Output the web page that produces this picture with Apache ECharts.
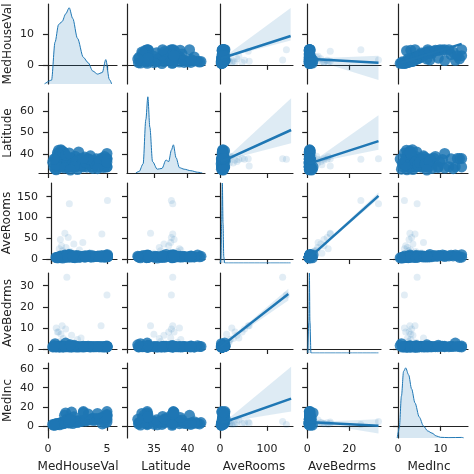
<!DOCTYPE html>
<html>
<head>
<meta charset="utf-8">
<script src="https://cdn.jsdelivr.net/npm/echarts@6/dist/echarts.min.js"></script>
<style>html,body{margin:0;padding:0;background:#fff}#main{width:474px;height:474px}</style>
</head>
<body>
<div id="main"></div>
<script>
var names = ['MedHouseVal', 'Latitude', 'AveRooms', 'AveBedrms', 'MedInc'];
var ranges = [[-0.76, 5.85], [31, 42.6], [-10.6, 155], [-2, 35.2], [-1.9, 16.5]];
var rowRanges = [[-6.3, 20], [31.2, 68.4], [-9.5, 183], [-1.9, 36], [-12.8, 66]];
var xTicks = [[0, 5], [35, 40], [0, 100], [0, 20], [0, 10]];
var yTicks = [[0, 10], [40, 50, 60], [0, 50, 100, 150], [0, 10, 20, 30], [0, 20, 40, 60]];

// [MedHouseVal, Latitude, AveRooms, AveBedrms, MedInc]
var coreRows = [
	[0.5,34.0,4.2,1.05,1.2],[0.6,37.8,3.5,1.1,1.8],[0.7,32.7,5.1,1.0,2.1],[0.8,39.5,6.0,1.2,2.5],
	[0.9,41.8,5.5,1.15,2.0],[1.0,33.9,4.8,1.05,2.6],[1.1,36.5,7.5,1.3,3.0],[1.2,38.0,5.9,1.08,3.3],
	[1.3,34.1,4.0,0.95,2.2],[1.4,40.6,6.8,1.25,2.9],[1.5,35.2,5.3,1.1,3.6],[1.6,37.7,4.4,1.02,4.0],
	[1.7,33.8,6.2,1.18,3.1],[1.8,34.2,9.0,1.6,4.3],[1.9,38.3,5.0,1.05,3.8],[2.0,36.0,4.6,1.0,4.6],
	[2.1,33.9,3.2,1.2,2.4],[2.2,37.4,6.5,1.1,5.0],[2.3,39.0,5.7,1.07,4.1],[2.4,34.0,7.9,1.3,5.3],
	[2.5,32.8,4.9,1.04,3.5],[2.7,37.9,6.1,1.12,5.6],[2.9,34.3,5.4,1.06,4.9],[3.1,38.6,6.6,1.09,6.2],
	[3.3,33.9,7.2,1.15,5.8],[3.5,37.6,5.2,1.03,6.6],[3.7,34.1,8.2,1.2,7.2],[3.9,36.9,6.3,1.08,5.5],
	[4.1,37.8,7.0,1.1,7.8],[4.3,34.0,5.8,1.05,6.9],[4.5,38.1,8.6,1.22,8.5],[4.7,33.7,6.9,1.1,9.4],
	[4.9,37.5,9.5,1.3,10.5],[5.0,34.1,7.4,1.12,12.0],[5.0,37.9,10.5,1.4,15.0],[5.0,34.0,6.0,1.0,4.0],
	[5.0,37.7,5.5,1.05,7.0],[4.8,34.2,4.5,1.0,3.0],[4.6,37.8,4.8,1.0,2.0],[1.0,35.5,2.5,0.9,1.0],
	[0.8,40.5,7.2,1.4,1.5],[1.2,41.5,9.8,1.5,2.8],[0.6,33.0,3.0,2.5,0.8],[1.5,34.0,10.0,2.8,13.5],
	[2.0,37.9,3.8,1.1,14.5],[3.0,34.0,4.4,1.0,15.0],[1.1,42.0,6.5,1.2,3.4],[1.6,36.8,11.0,1.3,7.5],
	[2.6,41.0,5.0,1.0,4.4],[3.8,33.3,5.6,1.06,8.0],
	[0.4,36.2,3.8,1.0,1.5],[0.7,35.0,4.5,1.1,1.7],[0.9,38.8,5.2,1.05,2.3],[1.0,40.0,4.9,1.1,2.1],
	[1.3,41.0,5.6,1.0,2.7],[1.5,39.5,6.1,1.15,3.2],[1.8,40.5,4.7,1.0,3.0],[2.1,35.6,5.5,1.05,3.9],
	[2.4,36.6,4.3,1.0,4.2],[2.8,35.0,6.4,1.1,4.7],[3.2,36.2,5.9,1.08,5.1],[3.6,39.2,4.8,1.0,6.0],
	[4.0,35.4,6.0,1.1,6.4],[4.4,36.6,5.1,1.02,7.4],[4.8,38.9,6.7,1.12,8.8],[5.0,36.3,8.0,1.2,9.9],
	[5.0,40.3,5.9,1.1,11.0],[4.2,33.2,7.6,1.15,13.0],[3.4,37.8,9.2,1.3,12.5],[1.4,33.5,8.5,1.35,11.0],
	[2.2,34.1,8.8,1.8,9.5],[0.5,37.7,3.0,1.6,0.5],[1.9,32.6,7.0,2.0,6.8],[3.0,38.0,7.8,1.25,14.0]
];
var sparseRows = [
	[1.6,37.8,133,34,4.5],[5.0,37.6,141,25.6,1.5],[1.2,34.5,62,11,2.8],[4.5,37.8,60,11,4.0],
	[1.5,37.6,52,9.5,3.2],[0.8,38.0,47,8,2.6],[2.0,36.5,36,6.5,3.5],[1.3,35.8,28,5,2.2],
	[0.9,37.2,32,8,1.8],[2.5,39.0,22,4.5,3.0],[1.0,36.0,20,3.6,2.5],[1.7,38.5,18,3.2,4.2],
	[3.5,37.0,15,2.2,5.5],[0.7,38.8,25,10,1.5],[1.1,35.0,14,7,3.0],[2.8,37.5,40,5.2,6.0]
];

// diagonal KDE curves: [x, density]
var kdes = [
	[[-0.3,0],[0.3,0.05],[0.6,0.55],[0.9,0.78],[1.2,0.82],[1.5,0.92],[1.8,1.0],[2.1,0.86],[2.5,0.6],[3.0,0.35],[3.4,0.28],[3.8,0.17],[4.2,0.13],[4.6,0.15],[4.9,0.32],[5.2,0.06],[5.4,0]],
	[[32.3,0],[32.8,0.02],[33.4,0.12],[33.8,0.7],[34.1,1],[34.4,0.6],[34.8,0.15],[35.5,0.05],[36.2,0.06],[36.8,0.17],[37.2,0.15],[37.6,0.3],[37.9,0.37],[38.3,0.2],[38.8,0.07],[39.5,0.05],[40.5,0.03],[41.5,0.01],[42.2,0]],
	[[0.5,0],[2,0.05],[3.5,0.5],[5,1],[6.5,0.5],[8,0.08],[10,0],[150,0]],
	[[0.3,0],[0.8,0.4],[1.05,1],[1.3,0.4],[1.8,0],[34,0]],
	[[-0.2,0],[0.3,0.15],[0.8,0.6],[1.3,0.95],[1.8,1],[2.5,0.9],[3.2,0.7],[4,0.5],[5,0.3],[6,0.17],[7,0.1],[8,0.07],[9,0.03],[10,0.01],[12,0.005],[15,0.008],[15.5,0]]
];
var kdeMax = [1.05, 1.05, 1.0, 1.0, 1.07];

// regression fits: row, col, x positions, fitted line, CI lower, CI upper
var regs = [
	{r:0,c:2,x:[1,10,150],y:[2.05,2.5,9.5],lo:[1.8,2.3,8],hi:[2.3,2.7,18.7]},
	{r:0,c:3,x:[0.5,2,34],y:[2.0,1.95,0.7],lo:[1.9,1.85,-5],hi:[2.1,2.05,3]},
	{r:0,c:4,x:[0.5,15],y:[0.6,6.9],lo:[0.4,6.6],hi:[0.8,7.2]},
	{r:1,c:2,x:[1,10,151],y:[36.8,37.2,51.2],lo:[36.5,37.0,45],hi:[37.0,37.4,66]},
	{r:1,c:3,x:[0.5,2,34],y:[35.7,35.9,46],lo:[35.5,35.7,42],hi:[35.9,36.1,58]},
	{r:2,c:3,x:[0.5,34],y:[1,152],lo:[0,145],hi:[2,160]},
	{r:3,c:2,x:[1,145],y:[1,26],lo:[0.9,23],hi:[1.1,28.5]},
	{r:4,c:2,x:[1,10,151],y:[3.5,4.0,28.5],lo:[3.3,3.8,15],hi:[3.7,4.2,62]},
	{r:4,c:3,x:[0.5,2,34],y:[4.0,3.8,0],lo:[3.8,3.6,-8],hi:[4.2,4.0,7]}
];

var colLeft = [39, 127, 215, 303, 390];
var rowTop = [4, 93, 183, 273, 363];
var C = '#1f77b4';
var font = 'DejaVu Sans';

var grids = [], xAxes = [], yAxes = [], series = [], mainY = [];
var axisLine = {show: true, lineStyle: {color: '#222', width: 1.2}};

for (var r = 0; r < 5; r++) {
	for (var c = 0; c < 5; c++) {
		var g = grids.length;
		grids.push({left: colLeft[c], top: rowTop[r], width: 78, height: 80});
		xAxes.push({
			type: 'value', gridIndex: g, min: ranges[c][0], max: ranges[c][1],
			axisLine: axisLine, splitLine: {show: false},
			axisTick: {show: true, length: 5, customValues: xTicks[c], lineStyle: {color: '#222', width: 1.2}},
			axisLabel: {show: r == 4, customValues: xTicks[c], fontFamily: font, fontSize: 11, color: '#222', margin: 6},
			name: r == 4 ? names[c] : '', nameLocation: 'middle', nameGap: 23,
			nameTextStyle: {fontFamily: font, fontSize: 12, color: '#222'}
		});
		var yi = yAxes.length;
		mainY[g] = yi;
		yAxes.push({
			type: 'value', gridIndex: g, min: rowRanges[r][0], max: rowRanges[r][1],
			axisLine: axisLine, splitLine: {show: false},
			axisTick: {show: true, length: 5, customValues: yTicks[r], lineStyle: {color: '#222', width: 1.2}},
			axisLabel: {show: c == 0, customValues: yTicks[r], fontFamily: font, fontSize: 11, color: '#222', margin: 5},
			name: c == 0 ? names[r] : '', nameLocation: 'middle', nameRotate: 90, nameGap: 25,
			nameTextStyle: {fontFamily: font, fontSize: 12, color: '#222'}
		});
		if (r == c) {
			var ki = yAxes.length;
			yAxes.push({type: 'value', gridIndex: g, min: 0, max: kdeMax[r], show: false});
			series.push({
				type: 'line', xAxisIndex: g, yAxisIndex: ki, data: kdes[r], symbol: 'none',
				smooth: 0.3, smoothMonotone: 'x',
				lineStyle: {color: C, width: 1}, areaStyle: {color: 'rgba(31,119,180,0.25)'}
			});
		} else {
			series.push({
				type: 'scatter', xAxisIndex: g, yAxisIndex: yi, symbolSize: 7,
				data: sparseRows.map(function (d) { return [d[c], d[r]]; }),
				itemStyle: {color: C, opacity: 0.13}
			});
			series.push({
				type: 'scatter', xAxisIndex: g, yAxisIndex: yi, symbolSize: 11,
				data: coreRows.map(function (d) { return [d[c], d[r]]; }),
				itemStyle: {color: C, opacity: 0.85}
			});
		}
	}
}

regs.forEach(function (f) {
	var g = f.r * 5 + f.c;
	var poly = f.x.map(function (x, i) { return [x, f.lo[i]]; })
		.concat(f.x.map(function (x, i) { return [x, f.hi[i]]; }).reverse());
	series.push({
		type: 'custom', xAxisIndex: g, yAxisIndex: mainY[g], data: [0], clip: true,
		renderItem: function (params, api) {
			return {
				type: 'polygon',
				shape: {points: poly.map(function (p) { return api.coord(p); })},
				style: {fill: 'rgba(31,119,180,0.15)'}
			};
		}
	});
	series.push({
		type: 'line', xAxisIndex: g, yAxisIndex: mainY[g], symbol: 'none',
		data: f.x.map(function (x, i) { return [x, f.y[i]]; }), lineStyle: {color: C, width: 2.5}
	});
});

var chart = echarts.init(document.getElementById('main'));
chart.setOption({animation: false, grid: grids, xAxis: xAxes, yAxis: yAxes, series: series});
</script>
</body>
</html>
